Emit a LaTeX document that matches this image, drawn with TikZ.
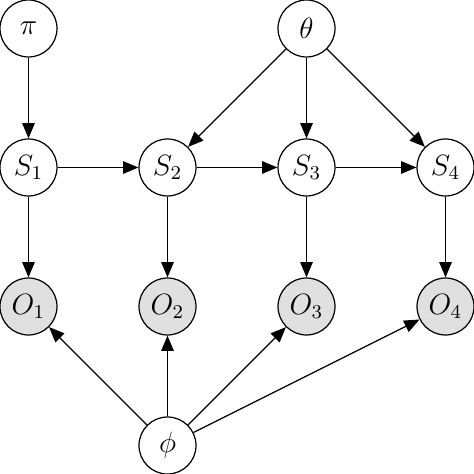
\documentclass[tikz,border=0pt]{standalone}
\usepackage{amsmath,amssymb}
\usepackage{tikz}
\usetikzlibrary{arrows.meta,positioning}
\definecolor{ObsGray}{RGB}{224,224,224}

\begin{document}
\begin{tikzpicture}[>={Triangle[length=2.2mm,width=1.8mm]},line width=0.5pt,
    latent/.style={circle,draw,fill=white,minimum size=0.82cm,inner sep=0pt,font=\fontsize{11.5}{13}\selectfont},
    observed/.style={latent,fill=ObsGray}]
      \useasboundingbox (-0.41,-0.41) rectangle (6.41,6.41);
      \node[latent] (pi) at (0,6) {$\pi$};
      \node[latent] (theta) at (4,6) {$\theta$};
      \node[latent] (phi) at (2,0) {$\phi$};
      \foreach \i in {1,...,4}{
        \node[latent] (S\i) at ({2*(\i-1)},4) {$S_\i$};
        \node[observed] (O\i) at ({2*(\i-1)},2) {$O_\i$};
        \draw[->] (S\i) -- (O\i);
        \draw[->] (phi) -- (O\i);
      }
      \draw[->] (pi) -- (S1);
      \draw[->] (S1) -- (S2);
      \draw[->] (S2) -- (S3);
      \draw[->] (S3) -- (S4);
      \foreach \i in {2,3,4}
        \draw[->] (theta) -- (S\i);
    \end{tikzpicture}
\end{document}
